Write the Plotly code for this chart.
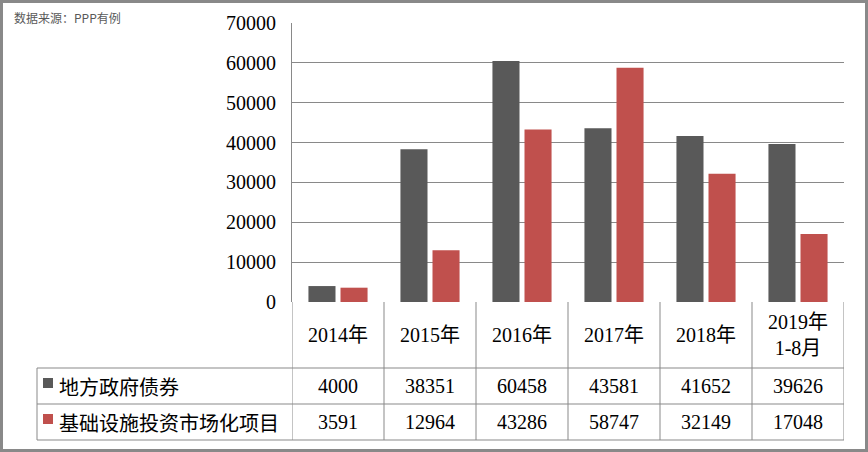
import plotly.graph_objects as go

categories = ["2014年", "2015年", "2016年", "2017年", "2018年", "2019年<br>1-8月"]
series_names = ["地方政府债券", "基础设施投资市场化项目"]
local_gov_bonds = [4000, 38351, 60458, 43581, 41652, 39626]
infra_market_projects = [3591, 12964, 43286, 58747, 32149, 17048]
y_ticks = [0, 10000, 20000, 30000, 40000, 50000, 60000, 70000]
y_tick_labels = [str(v) for v in y_ticks]
colors = ["#595959", "#C0504D"]
source_text = "数据来源：PPP有例"

W, H = 868, 452
ML, MR, MT, MB = 292, 24, 23, 150
PW, PH = W - ML - MR, H - MT - MB

def px_x(px):
    return (px - ML) / PW

def px_y(py):
    return (H - MB - py) / PH

GRID = "#898989"
FONT = "'Liberation Serif', 'Times New Roman', 'Noto Sans CJK SC', serif"
CJK = "'Noto Sans CJK SC', sans-serif"
x_idx = list(range(len(categories)))

fig = go.Figure()
for name, vals, col in zip(series_names, [local_gov_bonds, infra_market_projects], colors):
    fig.add_trace(go.Bar(x=x_idx, y=vals, name=name, marker=dict(color=col, line=dict(width=0)),
                         hoverinfo="skip"))

shapes = []
annotations = []

y_hdr_bot = px_y(368)
y_r1_bot = px_y(404)
y_r2_bot = px_y(440)
x_label_left = px_x(37)

for i in range(len(categories) + 1):
    shapes.append(dict(type="line", xref="x", yref="paper", x0=i - 0.5, x1=i - 0.5,
                       y0=0, y1=y_r2_bot, line=dict(color=GRID, width=1)))
shapes.append(dict(type="line", xref="paper", yref="paper", x0=x_label_left, x1=x_label_left,
                   y0=y_hdr_bot, y1=y_r2_bot, line=dict(color=GRID, width=1)))
for yy in [y_hdr_bot, y_r1_bot, y_r2_bot]:
    shapes.append(dict(type="line", xref="paper", yref="paper", x0=x_label_left, x1=1,
                       y0=yy, y1=yy, line=dict(color=GRID, width=1)))
for col, (top, bot) in zip(colors, [(378, 388), (414, 424)]):
    shapes.append(dict(type="rect", xref="paper", yref="paper", x0=px_x(43), x1=px_x(53),
                       y0=px_y(bot), y1=px_y(top), fillcolor=col, line=dict(width=0)))
shapes.append(dict(type="rect", xref="paper", yref="paper", x0=px_x(1.5), x1=px_x(W - 1.5),
                   y0=px_y(H - 1.5), y1=px_y(1.5), line=dict(color="#898989", width=3),
                   fillcolor="rgba(0,0,0,0)"))

for i, c in enumerate(categories):
    annotations.append(dict(x=i, y=(0 + y_hdr_bot) / 2, xref="x", yref="paper", text=c,
                            showarrow=False, font=dict(family=FONT, size=20, color="#000"),
                            xanchor="center", yanchor="middle"))
for vals, (yt, yb) in zip([local_gov_bonds, infra_market_projects], [(y_hdr_bot, y_r1_bot), (y_r1_bot, y_r2_bot)]):
    for i, v in enumerate(vals):
        annotations.append(dict(x=i, y=(yt + yb) / 2, xref="x", yref="paper", text=str(v),
                                showarrow=False, font=dict(family=FONT, size=20, color="#000"),
                                xanchor="center", yanchor="middle"))
for name, (yt, yb) in zip(series_names, [(y_hdr_bot, y_r1_bot), (y_r1_bot, y_r2_bot)]):
    annotations.append(dict(x=px_x(57), y=(yt + yb) / 2, xref="paper", yref="paper", text=name,
                            showarrow=False, font=dict(family=CJK, size=20, color="#000"),
                            xanchor="left", yanchor="middle"))
annotations.append(dict(x=px_x(12), y=px_y(18), xref="paper", yref="paper", text=source_text,
                        showarrow=False, font=dict(family=CJK, size=12, color="#595959"),
                        xanchor="left", yanchor="middle"))

fig.update_layout(
    width=W, height=H,
    margin=dict(l=ML, r=MR, t=MT, b=MB, pad=0),
    paper_bgcolor="white", plot_bgcolor="white",
    barmode="group", bargap=0.303, bargroupgap=0.156,
    showlegend=False,
    xaxis=dict(range=[-0.5, len(categories) - 0.5], showticklabels=False, showgrid=False,
               zeroline=False, showline=False, ticks=""),
    yaxis=dict(range=[0, 70000], tickvals=y_ticks, ticktext=y_tick_labels, showgrid=True,
               gridcolor=GRID, gridwidth=1,
               zeroline=False, showline=True, linecolor=GRID, linewidth=1, ticks="",
               ticklabelstandoff=11,
               tickfont=dict(family=FONT, size=20, color="#000")),
    shapes=shapes, annotations=annotations,
)

fig.write_html("out.html", config={"displayModeBar": False})
